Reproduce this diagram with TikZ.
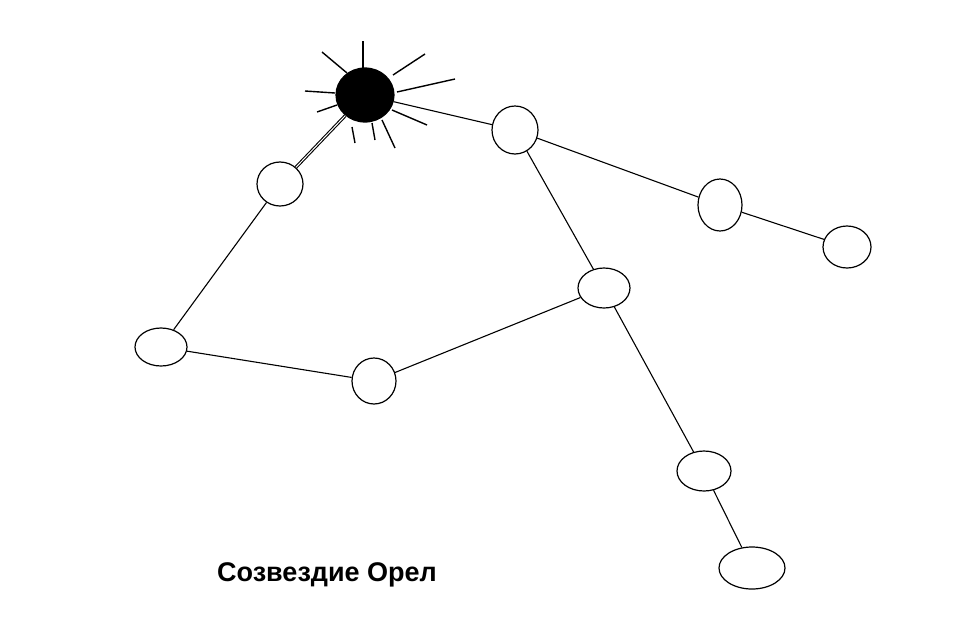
\documentclass[tikz,border=0pt]{standalone}
\usepackage{fontspec}
\setmainfont{Liberation Sans}
\usetikzlibrary{shapes.geometric}
\begin{document}
\begin{tikzpicture}[x=1pt,y=-1pt,
  st/.style={draw,ellipse,line width=1.2pt,inner sep=0pt},
  ln/.style={line width=1.1pt},
  ray/.style={line width=1.4pt}]
\useasboundingbox (0,0) rectangle (971,619);
\node[st,fill=black,minimum width=58pt,minimum height=54pt] (A) at (365,95) {};
\node[st,minimum width=46pt,minimum height=48pt] (B) at (515,130) {};
\node[st,minimum width=44pt,minimum height=52pt] (C) at (720,205) {};
\node[st,minimum width=48pt,minimum height=42pt] (D) at (847,247) {};
\node[st,minimum width=52pt,minimum height=40pt] (E) at (604,288) {};
\node[st,minimum width=54pt,minimum height=40pt] (F) at (704,471) {};
\node[st,minimum width=66pt,minimum height=42pt] (G) at (752,568) {};
\node[st,minimum width=46pt,minimum height=44pt] (H) at (280,184) {};
\node[st,minimum width=52pt,minimum height=38pt] (I) at (161,347) {};
\node[st,minimum width=44pt,minimum height=46pt] (J) at (374,381) {};
\foreach \a/\b in {A/B,B/C,C/D,B/E,E/F,F/G,E/J,J/I,I/H} \draw[ln] (\a) -- (\b);
\draw[ln,double,double distance=1pt] (A) -- (H);
\draw[ray] (363,70) -- (363,41);
\draw[ray] (322,52) -- (347,73);
\draw[ray] (393,75) -- (425,54);
\draw[ray] (305,91) -- (335,93);
\draw[ray] (397,92) -- (455,79);
\draw[ray] (392,110) -- (427,125);
\draw[ray] (317,112) -- (337,105);
\draw[ray] (352,127) -- (355,143);
\draw[ray] (372,123) -- (375,140);
\draw[ray] (382,120) -- (395,148);
\node[font=\bfseries\fontsize{27}{30}\selectfont] (T) at (327,575) {Созвездие Орел};
\end{tikzpicture}
\end{document}
